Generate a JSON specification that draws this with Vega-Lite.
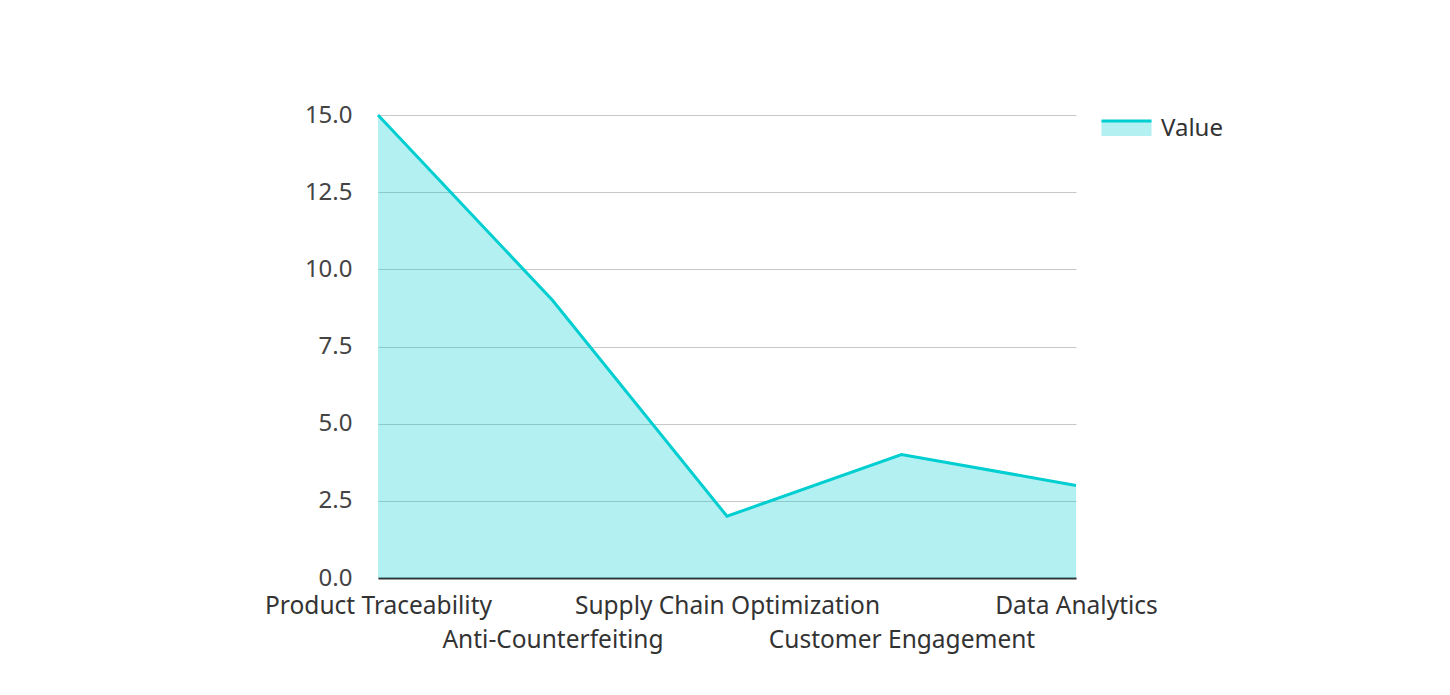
{
  "$schema": "https://vega.github.io/schema/vega-lite/v6.json",
  "autosize": {"type": "none"},
  "padding": {"left": 378, "top": 115, "right": 374, "bottom": 117},
  "width": 698,
  "height": 463,
  "background": "white",
  "config": {
    "view": {"stroke": null},
    "font": "Noto Sans"
  },
  "data": {
    "values": [
      {"category": "Product Traceability", "value": 15, "series": "Value"},
      {"category": "Anti-Counterfeiting", "value": 9, "series": "Value"},
      {"category": "Supply Chain Optimization", "value": 2, "series": "Value"},
      {"category": "Customer Engagement", "value": 4, "series": "Value"},
      {"category": "Data Analytics", "value": 3, "series": "Value"}
    ]
  },
  "encoding": {
    "x": {
      "field": "category",
      "type": "nominal",
      "sort": null,
      "scale": {"type": "point", "padding": 0},
      "axis": {
        "title": null,
        "labelAngle": 0,
        "labelFontSize": 24.5,
        "labelColor": "#333",
        "labelPadding": 16,
        "labelLineHeight": 34,
        "labelBaseline": "top",
        "labelLimit": 500,
        "labelExpr": "indexof(['Anti-Counterfeiting','Customer Engagement'], datum.label) >= 0 ? ['', datum.label] : datum.label",
        "ticks": false,
        "domainColor": "#333",
        "domainWidth": 2,
        "grid": false,
        "labelOverlap": false,
        "labelBound": false
      }
    },
    "y": {
      "field": "value",
      "type": "quantitative",
      "scale": {"domain": [0, 15], "nice": false},
      "axis": {
        "title": null,
        "values": [0, 2.5, 5, 7.5, 10, 12.5, 15],
        "format": ".1f",
        "labelFontSize": 24,
        "labelColor": "#444",
        "labelPadding": 26,
        "ticks": false,
        "domain": false,
        "gridColor": "#c8c8c8",
        "gridWidth": 1
      }
    }
  },
  "layer": [
    {
      "mark": {"type": "area", "color": "#00CED1", "fillOpacity": 0.3},
      "encoding": {}
    },
    {
      "mark": {"type": "line", "strokeWidth": 3},
      "encoding": {
        "stroke": {
          "field": "series",
          "type": "nominal",
          "scale": {"range": ["#00CED1"]},
          "legend": {
            "title": null,
            "orient": "none",
            "legendX": 722,
            "legendY": -13,
            "labelFontSize": 24,
            "labelColor": "#333",
            "symbolType": "M-1,-0.3H1V0.3H-1Z",
            "symbolSize": 2500,
            "symbolFillColor": "#B2F0F1",
            "symbolStrokeWidth": 3,
            "symbolDash": [50, 300],
            "symbolOpacity": 1,
            "labelOffset": 8
          }
        }
      }
    }
  ]
}
